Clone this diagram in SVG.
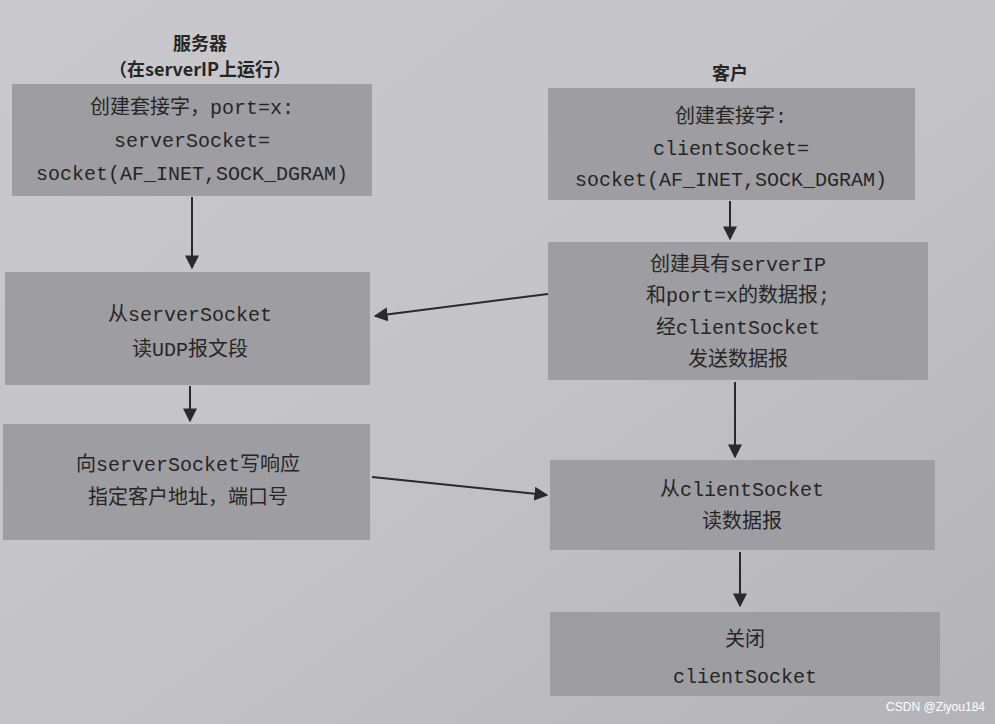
<svg xmlns="http://www.w3.org/2000/svg" width="995" height="724" viewBox="0 0 995 724">
<defs>
<linearGradient id="bg" x1="0" y1="0" x2="1" y2="1">
<stop offset="0" stop-color="#c9c9cd"/><stop offset="0.5" stop-color="#c4c4c8"/><stop offset="1" stop-color="#b4b4b8"/>
</linearGradient>
<marker id="ah" viewBox="0 0 10 10" refX="9" refY="5" markerWidth="7" markerHeight="7" orient="auto"><path d="M0,0 L10,5 L0,10 z" fill="#2a2a2a"/></marker>
</defs>
<style>
.box{fill:#9e9ea2}
.t{font-family:"Liberation Mono","Noto Sans CJK SC",monospace;font-size:20px;fill:#262626;text-anchor:middle}
.h{font-family:"Noto Sans CJK SC",sans-serif;font-size:18px;fill:#262626;text-anchor:middle;font-weight:bold}
.c{stroke:#2a2a2a;stroke-width:2;fill:none;marker-end:url(#ah)}
</style>
<rect width="995" height="724" fill="url(#bg)"/>
<text class="h" x="200" y="50">服务器</text>
<text class="h" x="200" y="76">（在serverIP上运行）</text>
<text class="h" x="730" y="80">客户</text>
<g id="s1"><rect class="box" x="12" y="84" width="360" height="112"/>
<text class="t" x="192" y="114">创建套接字，port=x:</text>
<text class="t" x="192" y="147">serverSocket=</text>
<text class="t" x="192" y="180">socket(AF_INET,SOCK_DGRAM)</text></g>
<g id="c1"><rect class="box" x="548" y="88" width="367" height="112"/>
<text class="t" x="731" y="123">创建套接字:</text>
<text class="t" x="731" y="155">clientSocket=</text>
<text class="t" x="731" y="186">socket(AF_INET,SOCK_DGRAM)</text></g>
<g id="s2"><rect class="box" x="5" y="272" width="365" height="113"/>
<text class="t" x="190" y="321">从serverSocket</text>
<text class="t" x="190" y="356">读UDP报文段</text></g>
<g id="c2"><rect class="box" x="548" y="242" width="380" height="138"/>
<text class="t" x="738" y="271">创建具有serverIP</text>
<text class="t" x="738" y="302">和port=x的数据报;</text>
<text class="t" x="738" y="334">经clientSocket</text>
<text class="t" x="738" y="366">发送数据报</text></g>
<g id="s3"><rect class="box" x="3" y="424" width="367" height="116"/>
<text class="t" x="188" y="471">向serverSocket写响应</text>
<text class="t" x="188" y="504">指定客户地址，端口号</text></g>
<g id="c3"><rect class="box" x="550" y="460" width="385" height="90"/>
<text class="t" x="742" y="496">从clientSocket</text>
<text class="t" x="742" y="528">读数据报</text></g>
<g id="c4"><rect class="box" x="550" y="612" width="390" height="84"/>
<text class="t" x="745" y="646">关闭</text>
<text class="t" x="745" y="683">clientSocket</text></g>
<g id="connectors">
<line class="c" x1="192" y1="197" x2="192" y2="268"/>
<line class="c" x1="730" y1="201" x2="730" y2="239"/>
<line class="c" x1="548" y1="294" x2="375" y2="316"/>
<line class="c" x1="190" y1="386" x2="190" y2="421"/>
<line class="c" x1="372" y1="477" x2="547" y2="495"/>
<line class="c" x1="735" y1="382" x2="735" y2="457"/>
<line class="c" x1="740" y1="552" x2="740" y2="606"/>
</g>
<text x="985" y="711" text-anchor="end" font-family="Liberation Sans,sans-serif" font-size="12" fill="#ffffff">CSDN @Ziyou184</text>
</svg>
